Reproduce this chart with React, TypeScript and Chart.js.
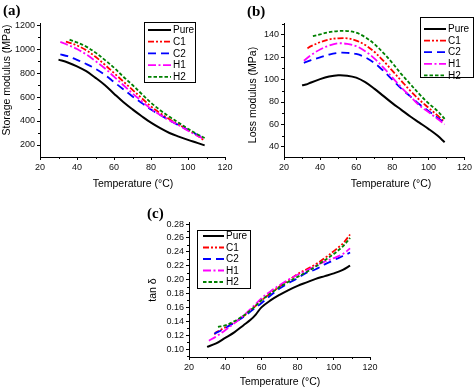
import React, { useEffect, useRef } from 'react';
import { Chart, registerables } from 'chart.js';
Chart.register(...registerables);

// ---------- Panel (a): storage modulus ----------
const aPureT = [30, 35, 40, 45, 50, 55, 60, 65, 70, 75, 80, 85, 90, 95, 100, 105, 109];
const aPureV = [912, 888, 855, 815, 760, 700, 628, 558, 497, 440, 386, 340, 300, 270, 243, 218, 197];
const aC1T = [34, 40, 45, 50, 55, 60, 65, 70, 75, 80, 85, 90, 95, 100, 105, 109];
const aC1V = [1062, 1030, 990, 935, 870, 800, 730, 660, 590, 522, 465, 415, 370, 325, 280, 235];
const aC2T = [31, 35, 40, 45, 50, 55, 60, 65, 70, 75, 80, 85, 90, 95, 100, 105, 109];
const aC2V = [955, 940, 910, 875, 835, 785, 725, 665, 605, 550, 495, 450, 405, 365, 325, 285, 250];
const aH1T = [31, 35, 40, 45, 50, 55, 60, 65, 70, 75, 80, 85, 90, 95, 100, 105, 109];
const aH1V = [1060, 1035, 1000, 955, 900, 840, 770, 700, 630, 565, 500, 450, 405, 365, 320, 278, 248];
const aH2T = [36, 40, 45, 50, 55, 60, 65, 70, 75, 80, 85, 90, 95, 100, 105, 109];
const aH2V = [1078, 1055, 1020, 970, 910, 845, 770, 700, 625, 552, 490, 435, 385, 335, 290, 258];
const aXTicks = [20, 40, 60, 80, 100, 120];
const aXMinor = [30, 50, 70, 90, 110];
const aYTicks = [200, 400, 600, 800, 1000, 1200];
const aYMinor = [300, 500, 700, 900, 1100];

// ---------- Panel (b): loss modulus ----------
const bPureT = [30, 33, 35, 40, 45, 50, 55, 60, 65, 70, 75, 80, 85, 90, 95, 100, 105, 109];
const bPureV = [95, 96, 97.5, 100.5, 102.8, 104, 103.6, 101.8, 97.8, 92, 85.5, 79, 73, 67, 61.5, 56, 50, 44];
const bC1T = [33, 35, 40, 45, 50, 55, 60, 65, 70, 75, 80, 85, 90, 95, 100, 105, 109];
const bC1V = [128, 130, 133.5, 136, 137, 137, 135, 131, 125, 117, 108, 99, 90, 82, 75, 68, 62];
const bC2T = [31, 35, 40, 45, 50, 55, 60, 65, 70, 75, 80, 85, 90, 95, 100, 105, 109];
const bC2V = [115, 117.5, 120, 122.5, 124, 124, 123, 120, 115, 108, 100, 92, 85, 78, 72, 66, 61];
const bH1T = [31, 35, 40, 45, 50, 55, 60, 65, 70, 75, 80, 85, 90, 95, 100, 105, 109];
const bH1V = [117, 122, 127, 130.5, 132.5, 132, 130, 125.5, 119, 111, 102, 93, 85, 77, 71, 65, 60];
const bH2T = [36, 40, 45, 50, 55, 60, 65, 70, 75, 80, 85, 90, 95, 100, 105, 109];
const bH2V = [139, 140.5, 142.5, 143.5, 143.5, 142, 138, 132, 124, 115, 105, 96, 87, 79, 72, 65];
const bXTicks = [20, 40, 60, 80, 100, 120];
const bXMinor = [30, 50, 70, 90, 110];
const bYTicks = [40, 60, 80, 100, 120, 140];
const bYMinor = [50, 70, 90, 110, 130, 150];

// ---------- Panel (c): tan delta ----------
const cPureT = [30, 35, 40, 45, 50, 54, 57, 60, 65, 70, 75, 80, 85, 90, 95, 100, 105, 109];
const cPureV = [0.103, 0.108, 0.116, 0.124, 0.134, 0.142, 0.15, 0.16, 0.17, 0.178, 0.185, 0.191, 0.196, 0.201, 0.205, 0.209, 0.214, 0.22];
const cC1T = [34, 35, 40, 45, 50, 55, 60, 65, 70, 75, 80, 85, 90, 95, 100, 105, 109];
const cC1V = [0.121, 0.124, 0.131, 0.138, 0.147, 0.158, 0.17, 0.18, 0.19, 0.199, 0.208, 0.215, 0.222, 0.231, 0.241, 0.252, 0.265];
const cC2T = [34, 40, 45, 50, 55, 60, 65, 70, 75, 80, 85, 90, 95, 100, 105, 109];
const cC2V = [0.122, 0.13, 0.138, 0.146, 0.156, 0.166, 0.177, 0.187, 0.195, 0.202, 0.21, 0.215, 0.222, 0.228, 0.234, 0.239];
const cH1T = [31, 35, 40, 45, 50, 55, 60, 65, 70, 75, 80, 85, 90, 95, 100, 105, 109];
const cH1V = [0.112, 0.118, 0.127, 0.137, 0.148, 0.16, 0.173, 0.183, 0.192, 0.2, 0.207, 0.213, 0.22, 0.226, 0.231, 0.237, 0.245];
const cH2T = [36, 40, 45, 50, 55, 60, 65, 70, 75, 80, 85, 90, 95, 100, 105, 109];
const cH2V = [0.132, 0.134, 0.14, 0.148, 0.158, 0.17, 0.18, 0.189, 0.197, 0.204, 0.211, 0.219, 0.228, 0.237, 0.248, 0.26];
const cXTicks = [20, 40, 60, 80, 100, 120];
const cXMinor = [30, 50, 70, 90, 110];
const cYTicks = [0.1, 0.12, 0.14, 0.16, 0.18, 0.2, 0.22, 0.24, 0.26, 0.28];
const cYMinor = [0.09, 0.11, 0.13, 0.15, 0.17, 0.19, 0.21, 0.23, 0.25, 0.27];

const seriesLabels = ['Pure', 'C1', 'C2', 'H1', 'H2'];

const SANS = "'Liberation Sans', Arial, sans-serif";
const SERIF = "'Liberation Serif', 'Times New Roman', serif";

const styles = [
  { color: '#000000', dash: [] as number[], width: 2 },
  { color: '#ff0000', dash: [6, 2, 2, 2, 2, 2], width: 1.8 },
  { color: '#0000ff', dash: [8, 5], width: 1.8 },
  { color: '#ff00ff', dash: [8, 2.5, 2, 2.5], width: 1.8 },
  { color: '#008000', dash: [3.5, 2], width: 1.8 },
];

function pts(t: number[], v: number[]) {
  return t.map((x, i) => ({ x, y: v[i] }));
}

function makeDatasets(series: [number[], number[]][]) {
  return series.map(([t, v], i) => ({
    label: seriesLabels[i],
    data: pts(t, v),
    borderColor: styles[i].color,
    backgroundColor: styles[i].color,
    borderDash: styles[i].dash,
    borderWidth: styles[i].width,
    pointRadius: 0,
    fill: false,
    tension: 0.35,
    order: 4 - i,
  }));
}

type TextItem = { text: string; x: number; y: number; font: string; rot?: number; align?: CanvasTextAlign };

function textPlugin(items: TextItem[]) {
  return {
    id: 'texts',
    afterDraw(chart: any) {
      const ctx = chart.ctx as CanvasRenderingContext2D;
      items.forEach((it) => {
        ctx.save();
        ctx.font = it.font;
        ctx.fillStyle = '#000';
        ctx.textAlign = it.align || 'center';
        ctx.textBaseline = 'middle';
        ctx.translate(it.x, it.y);
        if (it.rot) ctx.rotate(it.rot);
        ctx.fillText(it.text, 0, 0);
        ctx.restore();
      });
    },
  };
}

function legendPlugin(box: { x: number; y: number; w: number; h: number; first: number; row: number; l0: number; l1: number; tx: number }) {
  return {
    id: 'boxLegend',
    afterDraw(chart: any) {
      const ctx = chart.ctx as CanvasRenderingContext2D;
      ctx.save();
      ctx.fillStyle = '#fff';
      ctx.fillRect(box.x, box.y, box.w, box.h);
      ctx.strokeStyle = '#000';
      ctx.lineWidth = 1;
      ctx.setLineDash([]);
      ctx.strokeRect(box.x + 0.5, box.y + 0.5, box.w, box.h);
      chart.data.datasets.forEach((ds: any, i: number) => {
        const yy = box.y + box.first + i * box.row;
        ctx.beginPath();
        ctx.setLineDash(ds.borderDash || []);
        ctx.strokeStyle = ds.borderColor;
        ctx.lineWidth = ds.borderWidth;
        ctx.moveTo(box.x + box.l0, yy);
        ctx.lineTo(box.x + box.l1, yy);
        ctx.stroke();
        ctx.setLineDash([]);
        ctx.fillStyle = '#000';
        ctx.font = `10px ${SANS}`;
        ctx.textAlign = 'left';
        ctx.textBaseline = 'middle';
        ctx.fillText(ds.label, box.x + box.tx, yy + 0.5);
      });
      ctx.restore();
    },
  };
}

function minorPlugin(xMinor: number[], yMinor: number[]) {
  return {
    id: 'minorTicks',
    afterDraw(chart: any) {
      const ctx = chart.ctx as CanvasRenderingContext2D;
      const xs = chart.scales.x;
      const ys = chart.scales.y;
      ctx.save();
      ctx.strokeStyle = '#000';
      ctx.lineWidth = 1;
      xMinor.forEach((v) => {
        const px = Math.round(xs.getPixelForValue(v)) + 0.5;
        ctx.beginPath();
        ctx.moveTo(px, xs.top);
        ctx.lineTo(px, xs.top + 2);
        ctx.stroke();
      });
      yMinor.forEach((v) => {
        if (v < ys.min || v > ys.max) return;
        const py = Math.round(ys.getPixelForValue(v)) + 0.5;
        ctx.beginPath();
        ctx.moveTo(ys.right, py);
        ctx.lineTo(ys.right - 2, py);
        ctx.stroke();
      });
      ctx.restore();
    },
  };
}

function makeScales(o: {
  xMin: number; xMax: number; xTicks: number[];
  yMin: number; yMax: number; yTicks: number[]; yFmt: (v: number) => string;
  yWidth: number; xHeight: number;
}) {
  const common = {
    type: 'linear' as const,
    grid: { display: true, drawOnChartArea: false, drawTicks: true, tickLength: 3, color: '#000', lineWidth: 1 },
    border: { display: true, color: '#000', width: 1 },
  };
  return {
    x: {
      ...common,
      min: o.xMin,
      max: o.xMax,
      afterBuildTicks: (s: any) => { s.ticks = o.xTicks.map((v) => ({ value: v })); },
      afterFit: (s: any) => { s.height = o.xHeight; },
      ticks: { padding: 2, color: '#111', font: { size: 9, family: SANS }, autoSkip: false, maxRotation: 0, callback: (v: any) => String(v) },
    },
    y: {
      ...common,
      min: o.yMin,
      max: o.yMax,
      afterBuildTicks: (s: any) => { s.ticks = o.yTicks.map((v) => ({ value: v })); },
      afterFit: (s: any) => { s.width = o.yWidth; },
      ticks: { padding: 2, color: '#111', font: { size: 9, family: SANS }, autoSkip: false, callback: (v: any) => o.yFmt(Number(v)) },
    },
  };
}

function baseOptions(scales: any, pad: any) {
  return {
    responsive: false,
    animation: false as const,
    devicePixelRatio: 1,
    layout: { padding: pad },
    plugins: { legend: { display: false }, tooltip: { enabled: false }, title: { display: false } },
    scales,
  };
}

export default function App() {
  const refA = useRef<HTMLCanvasElement>(null);
  const refB = useRef<HTMLCanvasElement>(null);
  const refC = useRef<HTMLCanvasElement>(null);

  useEffect(() => {
    document.body.style.margin = '0';
    Chart.defaults.font.family = SANS;

    const chartA = new Chart(refA.current!, {
      type: 'line',
      data: { datasets: makeDatasets([[aPureT, aPureV], [aC1T, aC1V], [aC2T, aC2V], [aH1T, aH1V], [aH2T, aH2V]]) as any },
      options: baseOptions(
        makeScales({ xMin: 20, xMax: 120, xTicks: aXTicks, yMin: 100, yMax: 1217, yTicks: aYTicks, yFmt: (v) => String(v), yWidth: 40, xHeight: 38 }),
        { left: 0, top: 23, right: 12, bottom: 0 }
      ) as any,
      plugins: [
        minorPlugin(aXMinor, aYMinor),
        legendPlugin({ x: 144, y: 22, w: 51, h: 60, first: 8, row: 11.7, l0: 4, l1: 27, tx: 29 }),
        textPlugin([
          { text: '(a)', x: 3, y: 11, font: `bold 15px ${SERIF}`, align: 'left' },
          { text: 'Storage modulus (MPa)', x: 7, y: 80, font: `10.5px ${SANS}`, rot: -Math.PI / 2 },
          { text: 'Temperature (°C)', x: 133, y: 184, font: `10.5px ${SANS}` },
        ]),
      ],
    });

    const chartB = new Chart(refB.current!, {
      type: 'line',
      data: { datasets: makeDatasets([[bPureT, bPureV], [bC1T, bC1V], [bC2T, bC2V], [bH1T, bH1V], [bH2T, bH2V]]) as any },
      options: baseOptions(
        makeScales({ xMin: 20, xMax: 120, xTicks: bXTicks, yMin: 30.8, yMax: 150.7, yTicks: bYTicks, yFmt: (v) => String(v), yWidth: 47, xHeight: 38 }),
        { left: 0, top: 23, right: 9, bottom: 0 }
      ) as any,
      plugins: [
        minorPlugin(bXMinor, bYMinor),
        legendPlugin({ x: 183, y: 17, w: 53, h: 60, first: 12, row: 11.6, l0: 4, l1: 26, tx: 28 }),
        textPlugin([
          { text: '(b)', x: 10, y: 12, font: `bold 15px ${SERIF}`, align: 'left' },
          { text: 'Loss modulus (MPa)', x: 16, y: 95, font: `10.5px ${SANS}`, rot: -Math.PI / 2 },
          { text: 'Temperature (°C)', x: 154, y: 184, font: `10.5px ${SANS}` },
        ]),
      ],
    });

    const chartC = new Chart(refC.current!, {
      type: 'line',
      data: { datasets: makeDatasets([[cPureT, cPureV], [cC1T, cC1V], [cC2T, cC2V], [cH1T, cH1V], [cH2T, cH2V]]) as any },
      options: baseOptions(
        makeScales({ xMin: 20, xMax: 120, xTicks: cXTicks, yMin: 0.0885, yMax: 0.283, yTicks: cYTicks, yFmt: (v) => v.toFixed(2), yWidth: 89, xHeight: 32 }),
        { left: 0, top: 27, right: 10, bottom: 0 }
      ) as any,
      plugins: [
        minorPlugin(cXMinor, cYMinor),
        legendPlugin({ x: 97, y: 35, w: 53, h: 58, first: 6, row: 11.5, l0: 6, l1: 27, tx: 29 }),
        textPlugin([
          { text: '(c)', x: 47, y: 19, font: `bold 15px ${SERIF}`, align: 'left' },
          { text: 'tan δ', x: 53, y: 95, font: `10.5px ${SANS}`, rot: -Math.PI / 2 },
          { text: 'Temperature (°C)', x: 180, y: 187, font: `10.5px ${SANS}` },
        ]),
      ],
    });

    return () => {
      chartA.destroy();
      chartB.destroy();
      chartC.destroy();
    };
  }, []);

  return (
    <div style={{ position: 'absolute', left: 0, top: 0, width: 474, height: 389, background: '#fff', overflow: 'hidden' }}>
      <canvas ref={refA} width={237} height={195} style={{ position: 'absolute', left: 0, top: 0 }} />
      <canvas ref={refB} width={237} height={195} style={{ position: 'absolute', left: 237, top: 0 }} />
      <canvas ref={refC} width={280} height={194} style={{ position: 'absolute', left: 100, top: 195 }} />
    </div>
  );
}
